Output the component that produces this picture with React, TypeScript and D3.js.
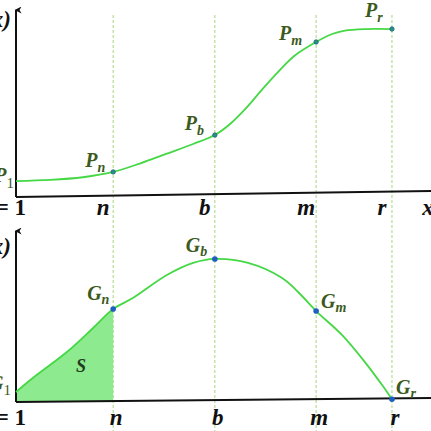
import React from "react";
import * as d3 from "d3";

// x positions (domain units 0..100) of the marked abscissae
const tickKeys = ["n", "b", "m", "r"];
const tickX = [23.7, 48.5, 73.2, 91.7];

// Top curve P(x)
const topX = [0, 8.3, 16.3, 23.7, 30.2, 36.8, 43.2, 48.5, 52, 56, 60, 64, 68, 73.2, 77.1, 80.2, 85.1, 91.7];
const topY = [8.4, 9.0, 10.4, 13.2, 17.6, 22.8, 27.9, 32.6, 38.0, 46.5, 56.5, 66.0, 74.5, 81.6, 85.8, 87.6, 88.4, 88.4];
const topPointY = [13.2, 32.6, 81.6, 88.4];

// Bottom curve G(x)
const botX = [0, 4.1, 12.4, 18.8, 23.7, 28.5, 36.8, 43.2, 48.5, 56.6, 64.9, 68.8, 73.2, 79.5, 85.1, 89.3, 91.7];
const botY = [5.2, 13.3, 28.3, 42.2, 53.2, 59.5, 72.8, 79.8, 82.1, 79.8, 71.1, 63.0, 52.0, 38.2, 22.5, 9.2, 1.0];
const botPointY = [53.2, 82.1, 52.0, 1.0];

const W = 431;
const H = 431;
const curveColor = "#45d845";
const fillColor = "#8eea8e";
const dashColor = "#a9d67c";
const labelColor = "#3c5a1c";
const serif = "Liberation Serif, Times New Roman, DejaVu Serif, serif";

export default function App() {
  const x = d3.scaleLinear().domain([0, 100]).range([16, 426]);
  const yTop = d3.scaleLinear().domain([0, 100]).range([197, 7]);
  const yBot = d3.scaleLinear().domain([0, 100]).range([401, 228]);

  const topData = topX.map((v, i) => [v, topY[i]] as [number, number]);
  const botData = botX.map((v, i) => [v, botY[i]] as [number, number]);

  const topLine = d3
    .line<[number, number]>()
    .x((d) => x(d[0]))
    .y((d) => yTop(d[1]))
    .curve(d3.curveCatmullRom.alpha(0.5))(topData) as string;
  const botLine = d3
    .line<[number, number]>()
    .x((d) => x(d[0]))
    .y((d) => yBot(d[1]))
    .curve(d3.curveCatmullRom.alpha(0.5))(botData) as string;
  const nIdx = botX.indexOf(tickX[0]);
  const area = d3
    .area<[number, number]>()
    .x((d) => x(d[0]))
    .y0(yBot(0))
    .y1((d) => yBot(d[1]))
    .curve(d3.curveCatmullRom.alpha(0.5))(botData.slice(0, nIdx + 1)) as string;

  const labelStyle = {
    fontFamily: serif,
    fontWeight: "bold" as const,
    fontStyle: "italic" as const,
    fill: labelColor,
  };
  const tickStyle = {
    fontFamily: serif,
    fontWeight: "bold" as const,
    fontStyle: "italic" as const,
    fill: "#111",
    fontSize: 23,
  };

  const topLabelOff = [
    [-28, -5],
    [-30, -5],
    [-37, -2],
    [-27, -12],
  ];
  const botLabelOff = [
    [-26, -9],
    [-29, -7],
    [5, -3],
    [4, -5],
  ];

  return (
    <svg
      width={W}
      height={H}
      style={{ position: "absolute", left: 0, top: 0, background: "#fff" }}
    >
      <defs>
        <marker id="arr" viewBox="0 0 10 10" refX="5" refY="2" markerWidth="7" markerHeight="9" orient="auto-start-reverse" markerUnits="userSpaceOnUse">
          <path d="M0,10 L5,0 L10,10 L5,7 Z" fill="#111" />
        </marker>
      </defs>
      <rect width={W} height={H} fill="#fff" />

      {tickX.map((v, i) => (
        <line
          key={"g" + i}
          x1={x(v)}
          x2={x(v)}
          y1={15}
          y2={H}
          stroke={dashColor}
          strokeWidth={1}
          strokeDasharray="3 2"
        />
      ))}

      <path d={area} fill={fillColor} stroke="none" />

      <line x1={16} y1={197} x2={431} y2={191} stroke="#111" strokeWidth={2} />
      <line x1={16} y1={197} x2={16} y2={10} stroke="#111" strokeWidth={2} markerEnd="url(#arr)" />
      <line x1={16} y1={402} x2={431} y2={398} stroke="#111" strokeWidth={2} />
      <line x1={16} y1={402} x2={16} y2={231} stroke="#111" strokeWidth={2} markerEnd="url(#arr)" />

      <path d={topLine} fill="none" stroke={curveColor} strokeWidth={1.8} />
      <path d={botLine} fill="none" stroke={curveColor} strokeWidth={1.8} />

      {tickX.map((v, i) => (
        <circle key={"tp" + i} cx={x(v)} cy={yTop(topPointY[i])} r={2.2} fill="#2a8f8a" stroke="#1d6a70" strokeWidth={0.8} />
      ))}
      {tickX.map((v, i) => (
        <circle key={"bp" + i} cx={x(v)} cy={yBot(botPointY[i])} r={2.8} fill="#1f5fc0" />
      ))}

      {tickKeys.map((k, i) => (
        <text key={"tl" + i} x={x(tickX[i]) + topLabelOff[i][0]} y={yTop(topPointY[i]) + topLabelOff[i][1]} style={labelStyle} fontSize={20}>
          P<tspan fontSize={14} dy={5}>{k}</tspan>
        </text>
      ))}
      {tickKeys.map((k, i) => (
        <text key={"bl" + i} x={x(tickX[i]) + botLabelOff[i][0]} y={yBot(botPointY[i]) + botLabelOff[i][1]} style={labelStyle} fontSize={20}>
          G<tspan fontSize={14} dy={4}>{k}</tspan>
        </text>
      ))}

      <text x={14} y={182} textAnchor="end" style={labelStyle} fontSize={20}>
        P<tspan fontSize={15} fontWeight="normal" fontStyle="normal" dy={6}>1</tspan>
      </text>
      <text x={11} y={390} textAnchor="end" style={labelStyle} fontSize={20}>
        G<tspan fontSize={15} fontWeight="normal" fontStyle="normal" dy={5}>1</tspan>
      </text>

      <text x={76} y={372} style={{ ...labelStyle, fill: "#1f3a1f" }} fontSize={18}>S</text>

      <text x={11} y={27} textAnchor="end" style={tickStyle}>P(x)</text>
      <text x={11} y={254} textAnchor="end" style={tickStyle}>G(x)</text>

      <text x={26} y={215} textAnchor="end" fontFamily={serif} fontWeight="bold" fontSize={23} fill="#111">x = 1</text>
      <text x={26} y={425} textAnchor="end" fontFamily={serif} fontWeight="bold" fontSize={23} fill="#111">x = 1</text>
      {tickKeys.map((k, i) => (
        <text key={"tt" + i} x={x(tickX[i]) - 10} y={215} textAnchor="middle" style={tickStyle}>{k}</text>
      ))}
      <text x={428} y={215} textAnchor="middle" style={tickStyle}>x</text>
      {tickKeys.map((k, i) => (
        <text key={"bt" + i} x={x(tickX[i]) + 3} y={425} textAnchor="middle" style={tickStyle}>{k}</text>
      ))}
    </svg>
  );
}
